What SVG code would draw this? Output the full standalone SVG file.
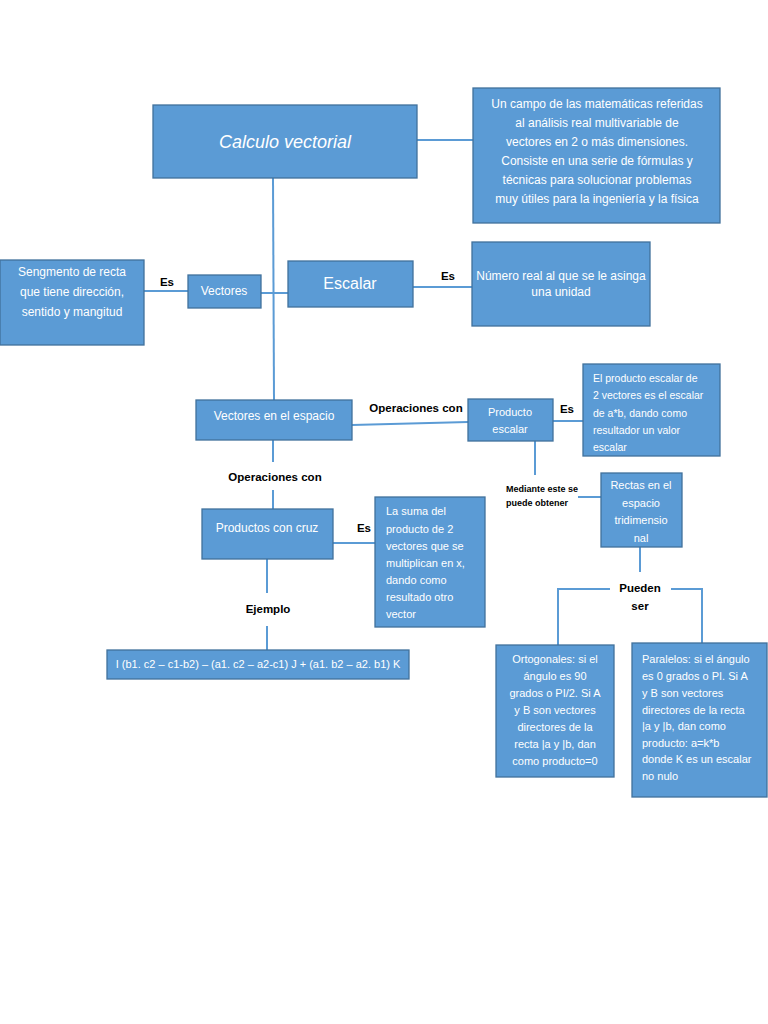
<svg xmlns="http://www.w3.org/2000/svg" width="768" height="1024" viewBox="0 0 768 1024">
<style>
.b{fill:#5B9BD5;stroke:#41719C;stroke-width:1.3}
.t{fill:#fff;font-family:"Liberation Sans",Arial,sans-serif;font-size:12px}
.c{text-anchor:middle}
.l{fill:#000;font-family:"Liberation Sans",Arial,sans-serif;font-size:11.5px;font-weight:bold}
.cn{stroke:#5B9BD5;stroke-width:2;fill:none}
</style>
<rect width="768" height="1024" fill="#fff"/>
<g id="connectors">
<line class="cn" x1="417" y1="140" x2="473" y2="140"/>
<line class="cn" x1="273" y1="178" x2="274" y2="400"/>
<line class="cn" x1="144" y1="291" x2="188" y2="291"/>
<line class="cn" x1="261" y1="293" x2="288" y2="293"/>
<line class="cn" x1="413" y1="287" x2="472" y2="287"/>
<line class="cn" x1="352" y1="425" x2="468" y2="422"/>
<line class="cn" x1="553" y1="421" x2="583" y2="421"/>
<line class="cn" x1="535" y1="441" x2="535" y2="475"/>
<line class="cn" x1="578" y1="497" x2="601" y2="497"/>
<line class="cn" x1="273" y1="440" x2="273" y2="462"/>
<line class="cn" x1="273" y1="490" x2="273" y2="509"/>
<line class="cn" x1="333" y1="543" x2="375" y2="543"/>
<line class="cn" x1="267" y1="559" x2="267" y2="593"/>
<line class="cn" x1="267" y1="626" x2="267" y2="650"/>
<line class="cn" x1="640" y1="547" x2="640" y2="572"/>
<polyline class="cn" points="610,589 558,589 558,645"/>
<polyline class="cn" points="671,589 702,589 702,643"/>
</g>
<g id="labels">
<text class="l c" x="167" y="286">Es</text>
<text class="l c" x="448" y="280">Es</text>
<text class="l c" x="416" y="412">Operaciones con</text>
<text class="l c" x="567" y="413">Es</text>
<text class="l c" x="275" y="481">Operaciones con</text>
<text class="l c" x="364" y="532">Es</text>
<text class="l c" x="268" y="613">Ejemplo</text>
<text class="l" x="506" y="492" style="font-size:9px">Mediante este se</text>
<text class="l" x="506" y="506" style="font-size:9px">puede obtener</text>
<text class="l c" x="640" y="592">Pueden</text>
<text class="l c" x="640" y="610">ser</text>
</g>
<g id="calculo">
<rect class="b" x="153" y="105" width="264" height="73"/>
<text class="t c" x="285" y="148" style="font-size:18px;font-style:italic">Calculo vectorial</text>
</g>
<g id="definicion">
<rect class="b" x="473" y="88" width="247" height="135"/>
<text class="t c" font-size="12"><tspan x="597" y="108">Un campo de las matemáticas referidas</tspan><tspan x="597" y="127">al análisis real multivariable de</tspan><tspan x="597" y="146">vectores en 2 o más dimensiones.</tspan><tspan x="597" y="165">Consiste en una serie de fórmulas y</tspan><tspan x="597" y="184">técnicas para solucionar problemas</tspan><tspan x="597" y="203">muy útiles para la ingeniería y la física</tspan></text>
</g>
<g id="sengmento">
<rect class="b" x="0" y="260" width="144" height="85"/>
<text class="t c"><tspan x="72" y="276">Sengmento de recta</tspan><tspan x="72" y="296">que tiene dirección,</tspan><tspan x="72" y="316">sentido y mangitud</tspan></text>
</g>
<g id="vectores">
<rect class="b" x="188" y="275" width="73" height="33"/>
<text class="t c" x="224" y="295">Vectores</text>
</g>
<g id="escalar">
<rect class="b" x="288" y="261" width="125" height="46"/>
<text class="t c" x="350" y="289" style="font-size:16px">Escalar</text>
</g>
<g id="numero">
<rect class="b" x="472" y="242" width="178" height="84"/>
<text class="t c"><tspan x="561" y="280">Número real al que se le asinga</tspan><tspan x="561" y="296">una unidad</tspan></text>
</g>
<g id="espacio">
<rect class="b" x="196" y="400" width="156" height="40"/>
<text class="t c" x="274" y="420">Vectores en el espacio</text>
</g>
<g id="pescalar">
<rect class="b" x="468" y="399" width="85" height="42"/>
<text class="t c" style="font-size:11px"><tspan x="510" y="416">Producto</tspan><tspan x="510" y="433">escalar</tspan></text>
</g>
<g id="pescalar-def">
<rect class="b" x="583" y="364" width="137" height="92"/>
<text class="t" style="font-size:10.5px"><tspan x="593" y="382">El producto escalar de</tspan><tspan x="593" y="399">2 vectores es el escalar</tspan><tspan x="593" y="417">de a*b, dando como</tspan><tspan x="593" y="434">resultador un valor</tspan><tspan x="593" y="451">escalar</tspan></text>
</g>
<g id="rectas">
<rect class="b" x="601" y="473" width="81" height="74"/>
<text class="t c" style="font-size:11px"><tspan x="641" y="489">Rectas en el</tspan><tspan x="641" y="507">espacio</tspan><tspan x="641" y="524">tridimensio</tspan><tspan x="641" y="542">nal</tspan></text>
</g>
<g id="cruz">
<rect class="b" x="202" y="509" width="131" height="50"/>
<text class="t c" x="267" y="532">Productos con cruz</text>
</g>
<g id="cruz-def">
<rect class="b" x="375" y="497" width="110" height="130"/>
<text class="t" style="font-size:11px"><tspan x="386" y="515">La suma del</tspan><tspan x="386" y="533">producto de 2</tspan><tspan x="386" y="550">vectores que se</tspan><tspan x="386" y="567">multiplican en x,</tspan><tspan x="386" y="584">dando como</tspan><tspan x="386" y="601">resultado otro</tspan><tspan x="386" y="618">vector</tspan></text>
</g>
<g id="formula">
<rect class="b" x="107" y="650" width="302" height="29"/>
<text class="t c" x="258" y="668" style="font-size:11px">I (b1. c2 – c1-b2) – (a1. c2 – a2-c1) J + (a1. b2 – a2. b1) K</text>
</g>
<g id="ortogonales">
<rect class="b" x="496" y="645" width="118" height="132"/>
<text class="t c" style="font-size:11px"><tspan x="555" y="663">Ortogonales: si el</tspan><tspan x="555" y="680">ángulo es 90</tspan><tspan x="555" y="697">grados o PI/2. Si A</tspan><tspan x="555" y="714">y B son vectores</tspan><tspan x="555" y="731">directores de la</tspan><tspan x="555" y="748">recta |a y |b, dan</tspan><tspan x="555" y="765">como producto=0</tspan></text>
</g>
<g id="paralelos">
<rect class="b" x="632" y="643" width="135" height="154"/>
<text class="t" style="font-size:11px"><tspan x="642" y="663">Paralelos: si el ángulo</tspan><tspan x="642" y="680">es 0 grados o PI. Si A</tspan><tspan x="642" y="697">y B son vectores</tspan><tspan x="642" y="714">directores de la recta</tspan><tspan x="642" y="730">|a y |b, dan como</tspan><tspan x="642" y="747">producto: a=k*b</tspan><tspan x="642" y="763">donde K es un escalar</tspan><tspan x="642" y="780">no nulo</tspan></text>
</g>
</svg>
